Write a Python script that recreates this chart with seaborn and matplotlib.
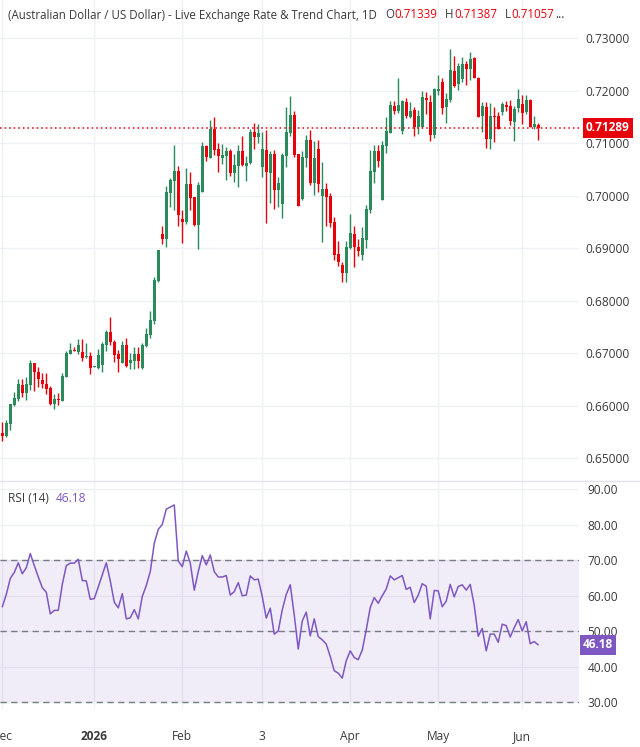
import numpy as np
import pandas as pd
import matplotlib
matplotlib.use("Agg")
import matplotlib.pyplot as plt
import seaborn as sns
from matplotlib.lines import Line2D
from matplotlib.transforms import blended_transform_factory

sns.set_theme(style="white")
plt.rcParams['font.family'] = ['Open Sans', 'DejaVu Sans']

# ---------------- data ----------------
dates = pd.bdate_range("2025-12-01", "2026-06-05")

open_ = [0.65482, 0.65425, 0.65647, 0.66009, 0.66130, 0.66384, 0.66244, 0.66397, 0.66809, 0.66638,
         0.66485, 0.66403, 0.66333, 0.66035, 0.66124, 0.66092, 0.66549, 0.66987, 0.67057, 0.67013,
         0.67019, 0.66930, 0.66943, 0.66739, 0.66714, 0.66778, 0.67152, 0.67394, 0.67216, 0.66974,
         0.66816, 0.67152, 0.66809, 0.66850, 0.66980, 0.66714, 0.67139, 0.67342, 0.67609, 0.68371,
         0.69266, 0.69177, 0.70054, 0.70282, 0.70466, 0.69552, 0.69501, 0.70219, 0.69971, 0.69438,
         0.70066, 0.70949, 0.70720, 0.71267, 0.70886, 0.70720, 0.70759, 0.70847, 0.70422, 0.70568,
         0.70847, 0.70568, 0.70612, 0.71209, 0.71120, 0.70536, 0.70866, 0.70435, 0.70790, 0.70104,
         0.69838, 0.70752, 0.71197, 0.71533, 0.70790, 0.69933, 0.70714, 0.71057, 0.70231, 0.70886,
         0.69990, 0.70124, 0.69990, 0.69495, 0.68885, 0.68676, 0.68530, 0.69006, 0.69266, 0.69019,
         0.68866, 0.69152, 0.69723, 0.70454, 0.70854, 0.69914, 0.70943, 0.71197, 0.71705, 0.71616,
         0.71235, 0.71781, 0.71502, 0.71628, 0.71298, 0.71298, 0.71857, 0.71781, 0.71152, 0.71990,
         0.72162, 0.71692, 0.71819, 0.72371, 0.72130, 0.72219, 0.72505, 0.72410, 0.72619, 0.72238,
         0.71514, 0.71686, 0.71082, 0.71514, 0.71514, 0.71590, 0.71724, 0.71705, 0.71400, 0.71660,
         0.71743, 0.71590, 0.71819, 0.71298, 0.71339]
high = [0.65692, 0.65723, 0.66035, 0.66257, 0.66511, 0.66505, 0.66536, 0.66866, 0.66815, 0.66727,
        0.66612, 0.66612, 0.66371, 0.66219, 0.66238, 0.66619, 0.67032, 0.67190, 0.67108, 0.67273,
        0.67267, 0.67190, 0.67019, 0.66755, 0.67070, 0.67203, 0.67432, 0.67679, 0.67247, 0.67057,
        0.67235, 0.67279, 0.66993, 0.67108, 0.67108, 0.67183, 0.67469, 0.67799, 0.68441, 0.68961,
        0.69419, 0.70181, 0.70327, 0.70962, 0.70562, 0.69723, 0.70524, 0.70447, 0.69980, 0.70257,
        0.71013, 0.70962, 0.71438, 0.71501, 0.70993, 0.70981, 0.70930, 0.70886, 0.70790, 0.70962,
        0.71140, 0.70752, 0.71267, 0.71374, 0.71355, 0.71203, 0.71247, 0.70847, 0.70866, 0.70358,
        0.70816, 0.71692, 0.71895, 0.71616, 0.70790, 0.70847, 0.71152, 0.71247, 0.71038, 0.71057,
        0.70644, 0.70231, 0.70041, 0.69596, 0.69127, 0.68739, 0.69139, 0.69647, 0.69419, 0.69177,
        0.69406, 0.69819, 0.70866, 0.70962, 0.70962, 0.71038, 0.71501, 0.71806, 0.71806, 0.72230,
        0.71819, 0.71851, 0.71781, 0.71692, 0.71628, 0.71997, 0.71971, 0.71914, 0.72041, 0.72295,
        0.72232, 0.71946, 0.72791, 0.72657, 0.72517, 0.72644, 0.72556, 0.72733, 0.72644, 0.72263,
        0.71781, 0.71781, 0.71755, 0.71692, 0.71590, 0.71781, 0.71800, 0.71819, 0.71705, 0.72029,
        0.71908, 0.71908, 0.71832, 0.71514, 0.71387]
low = [0.65330, 0.65393, 0.65539, 0.65990, 0.66079, 0.66168, 0.66104, 0.66295, 0.66282, 0.66346,
       0.66327, 0.66212, 0.66016, 0.65939, 0.66016, 0.66079, 0.66549, 0.66987, 0.67044, 0.66987,
       0.66854, 0.66898, 0.66606, 0.66735, 0.66701, 0.66644, 0.67032, 0.67152, 0.66835, 0.66644,
       0.66803, 0.66739, 0.66695, 0.66690, 0.66714, 0.66701, 0.67120, 0.67291, 0.67552, 0.68346,
       0.69076, 0.69025, 0.69787, 0.69723, 0.69419, 0.69101, 0.69457, 0.69723, 0.69419, 0.68987,
       0.70066, 0.70657, 0.70720, 0.70771, 0.70454, 0.70593, 0.70295, 0.70378, 0.70263, 0.70168,
       0.70568, 0.70282, 0.70593, 0.70886, 0.70993, 0.70359, 0.69469, 0.69863, 0.69743, 0.69774,
       0.69577, 0.70549, 0.71133, 0.70740, 0.69800, 0.69914, 0.70549, 0.70200, 0.70009, 0.70073,
       0.69108, 0.69419, 0.69406, 0.68771, 0.68657, 0.68358, 0.68358, 0.68974, 0.68631, 0.68854,
       0.68771, 0.69006, 0.69673, 0.70244, 0.70549, 0.69914, 0.70803, 0.71184, 0.71546, 0.71565,
       0.71171, 0.71470, 0.71476, 0.71133, 0.71171, 0.71279, 0.71552, 0.71044, 0.71101, 0.71914,
       0.71552, 0.71387, 0.71781, 0.72073, 0.72009, 0.72168, 0.72105, 0.72200, 0.72232, 0.71489,
       0.71216, 0.70898, 0.70886, 0.71025, 0.71260, 0.71540, 0.71609, 0.71343, 0.71044, 0.71590,
       0.71362, 0.71552, 0.71298, 0.71273, 0.71057]
close = [0.65425, 0.65666, 0.66028, 0.66143, 0.66409, 0.66244, 0.66409, 0.66809, 0.66632, 0.66505,
         0.66403, 0.66320, 0.66035, 0.66124, 0.66111, 0.66562, 0.67000, 0.67057, 0.67044, 0.67152,
         0.66905, 0.66949, 0.66720, 0.66746, 0.66962, 0.67171, 0.67394, 0.67216, 0.66962, 0.66886,
         0.67152, 0.66746, 0.66866, 0.66980, 0.66855, 0.67152, 0.67361, 0.67628, 0.68390, 0.68961,
         0.69177, 0.70066, 0.70295, 0.70473, 0.69628, 0.69501, 0.70219, 0.69958, 0.69438, 0.70200,
         0.70943, 0.70739, 0.71267, 0.70866, 0.70759, 0.70771, 0.70847, 0.70422, 0.70581, 0.70847,
         0.70574, 0.70619, 0.71209, 0.71120, 0.71190, 0.70886, 0.70441, 0.70790, 0.70104, 0.70244,
         0.70771, 0.71216, 0.71533, 0.70771, 0.69800, 0.70727, 0.71057, 0.70231, 0.70708, 0.70219,
         0.70124, 0.69965, 0.69469, 0.68866, 0.68739, 0.68530, 0.69019, 0.69279, 0.69012, 0.68942,
         0.69184, 0.69743, 0.70473, 0.70854, 0.70663, 0.70962, 0.71228, 0.71724, 0.71616, 0.71724,
         0.71800, 0.71514, 0.71616, 0.71298, 0.71514, 0.71876, 0.71819, 0.71152, 0.72029, 0.72029,
         0.71667, 0.71838, 0.72390, 0.72092, 0.72467, 0.72505, 0.72416, 0.72600, 0.72244, 0.71502,
         0.71705, 0.71076, 0.71514, 0.71495, 0.71273, 0.71743, 0.71692, 0.71425, 0.71648, 0.71832,
         0.71578, 0.71819, 0.71298, 0.71362, 0.71289]
rsi = [56.9, 60.4, 64.9, 66.6, 69.3, 66.2, 67.9, 71.9, 68.5, 65.3,
       62.3, 61.0, 54.9, 55.9, 55.9, 63.2, 68.5, 69.2, 69.2, 70.3,
       64.3, 64.2, 59.0, 59.2, 62.5, 65.9, 69.3, 64.2, 58.2, 56.6,
       60.6, 53.5, 53.8, 56.1, 53.5, 59.8, 62.9, 66.8, 74.8, 78.7,
       80.1, 84.4, 85.0, 85.6, 69.8, 68.2, 72.6, 69.2, 61.6, 66.8,
       71.3, 68.7, 71.5, 66.8, 65.3, 65.3, 65.7, 60.2, 61.2, 63.7,
       60.0, 60.2, 65.6, 64.5, 64.7, 59.8, 53.7, 56.5, 49.2, 50.1,
       56.0, 60.4, 63.1, 54.6, 45.0, 52.9, 55.4, 48.7, 53.5, 48.5,
       47.6, 46.4, 42.9, 38.9, 38.2, 36.8, 41.7, 44.5, 42.6, 42.0,
       44.7, 50.4, 56.7, 59.5, 57.9, 60.0, 61.9, 65.6, 64.5, 65.1,
       65.7, 61.8, 62.4, 58.1, 60.2, 63.4, 62.7, 53.5, 61.5, 61.4,
       56.9, 58.5, 63.2, 59.7, 62.6, 63.1, 61.6, 63.2, 57.4, 48.6,
       50.8, 44.5, 49.2, 49.2, 46.9, 52.0, 51.6, 48.4, 51.0, 53.3,
       50.1, 52.7, 46.5, 47.1, 46.18]

price_ticks = [0.65, 0.66, 0.67, 0.68, 0.69, 0.70, 0.71, 0.72, 0.73]
rsi_ticks = [30, 40, 50, 60, 70, 80, 90]
month_labels = ["Dec", "2026", "Feb", "3", "Apr", "May", "Jun"]
month_dates = ["2025-12-01", "2026-01-01", "2026-02-02", "2026-03-02",
               "2026-04-01", "2026-05-01", "2026-06-01"]
last_price = 0.71289
last_rsi = 46.18
header_title = "(Australian Dollar / US Dollar) - Live Exchange Rate & Trend Chart, 1D"
header_ohl = [("O", "0.71339"), ("H", "0.71387"), ("L", "0.71057...")]

df = pd.DataFrame({"date": dates, "open": open_, "high": high, "low": low,
                   "close": close, "rsi": rsi})
df["x"] = np.arange(len(df))
df["dir"] = np.where(df["close"] >= df["open"], "up", "down")

UP = "#2b8a5c"
DOWN = "#e8000b"
PURPLE = "#7e57c2"
TXT = "#3a3a3a"
GRID = "#eef0f3"

W, H = 640, 747
fig = plt.figure(figsize=(W / 100, H / 100), dpi=100)
fig.patch.set_facecolor("white")
ax = fig.add_axes([0, 1 - 481 / H, 579 / W, 481 / H])
ax2 = fig.add_axes([0, 1 - 709 / H, 579 / W, 227 / H], sharex=ax)

month_pos = [int(df.index[df["date"] == pd.Timestamp(d)][0]) for d in month_dates]

# ---------------- price panel ----------------
colors = df["dir"].map({"up": UP, "down": DOWN})
ax.vlines(df["x"], df["low"], df["high"], colors=colors, lw=1, zorder=3)
body_lo = np.minimum(df["open"], df["close"])
body_h = np.maximum(np.abs(df["close"] - df["open"]), 0.00012)
ax.bar(df["x"], body_h, bottom=body_lo, width=0.76, color=colors, lw=0, zorder=4)

ax.set_ylim(0.64562, 0.73724)
ax.set_xlim(-0.575, 144.2)
ax.set_yticks(price_ticks)
ax.yaxis.set_major_formatter(matplotlib.ticker.FormatStrFormatter("%.5f"))
ax.yaxis.tick_right()
ax.tick_params(axis="y", length=0, pad=4.5, labelsize=8.6, labelcolor=TXT)
ax.set_xticks(month_pos)
ax.tick_params(axis="x", length=0, labelbottom=False)
ax.grid(True, color=GRID, lw=1, zorder=0)
for s in ax.spines.values():
    s.set_visible(False)

ax.axhline(last_price, color=DOWN, lw=1.1, ls=(0, (1, 2)), zorder=5)
tr = blended_transform_factory(ax.transAxes, ax.transData)
ax.text(1.0 + 7 / 579, last_price, f"{last_price:.5f}", transform=tr, ha="left", va="center",
        fontsize=8.6, color="white", fontweight="bold", clip_on=False, zorder=10,
        bbox=dict(boxstyle="square,pad=0.28", fc=DOWN, ec="none"))

# ---------------- RSI panel ----------------
ax2.axhspan(30, 70, color=PURPLE, alpha=0.1, lw=0, zorder=1)
sns.lineplot(data=df, x="x", y="rsi", ax=ax2, color=PURPLE, lw=1.1, zorder=5)
for lvl in (70, 50, 30):
    ax2.axhline(lvl, color="#787b86", lw=1, ls=(0, (4.5, 3.2)), zorder=3)
ax2.set_ylim(28.11, 92.06)
ax2.set_yticks(rsi_ticks)
ax2.yaxis.set_major_formatter(matplotlib.ticker.FormatStrFormatter("%.2f"))
ax2.yaxis.tick_right()
ax2.tick_params(axis="y", length=0, pad=6, labelsize=8.6, labelcolor=TXT)
ax2.set_xticks(month_pos)
ax2.set_xticklabels(month_labels)
ax2.tick_params(axis="x", length=0, pad=15, labelsize=8.6, labelcolor=TXT)
ax2.get_xticklabels()[1].set_fontweight("bold")
ax2.set_xlabel("")
ax2.set_ylabel("")
ax2.grid(True, color=GRID, lw=1, zorder=0)
for s in ax2.spines.values():
    s.set_visible(False)
tr2 = blended_transform_factory(ax2.transAxes, ax2.transData)
ax2.text(1.0 + 4 / 579, last_rsi, f"{last_rsi:.2f}", transform=tr2, ha="left", va="center",
         fontsize=8.6, color="white", fontweight="bold", clip_on=False, zorder=10,
         bbox=dict(boxstyle="square,pad=0.28", fc=PURPLE, ec="none"))

# panel separator
fig.add_artist(Line2D([0, 1], [1 - 481 / H, 1 - 481 / H], color="#e0e3eb", lw=1))

# ---------------- header texts ----------------
renderer = fig.canvas.get_renderer()


def seq_text(x_px, y_px, parts, size):
    x = x_px
    for s, c, gap in parts:
        t = fig.text(x / W, 1 - y_px / H, s, color=c, fontsize=size, ha="left", va="center")
        bb = t.get_window_extent(renderer=renderer)
        x = bb.x1 + gap


parts = [(header_title, TXT, 8)]
for i, (k, v) in enumerate(header_ohl):
    if v.endswith("..."):
        parts.append((k, TXT, 0.5))
        parts.append((v[:-3], DOWN, 0.5))
        parts.append(("...", TXT, 0))
    else:
        parts.append((k, TXT, 0.5))
        parts.append((v, DOWN, 8))
seq_text(8, 15, parts, 8.3)

seq_text(8, 498, [("RSI (14)", TXT, 7), (f"{last_rsi:.2f}", PURPLE, 0)], 8.6)

fig.savefig("out.png", dpi=100)
